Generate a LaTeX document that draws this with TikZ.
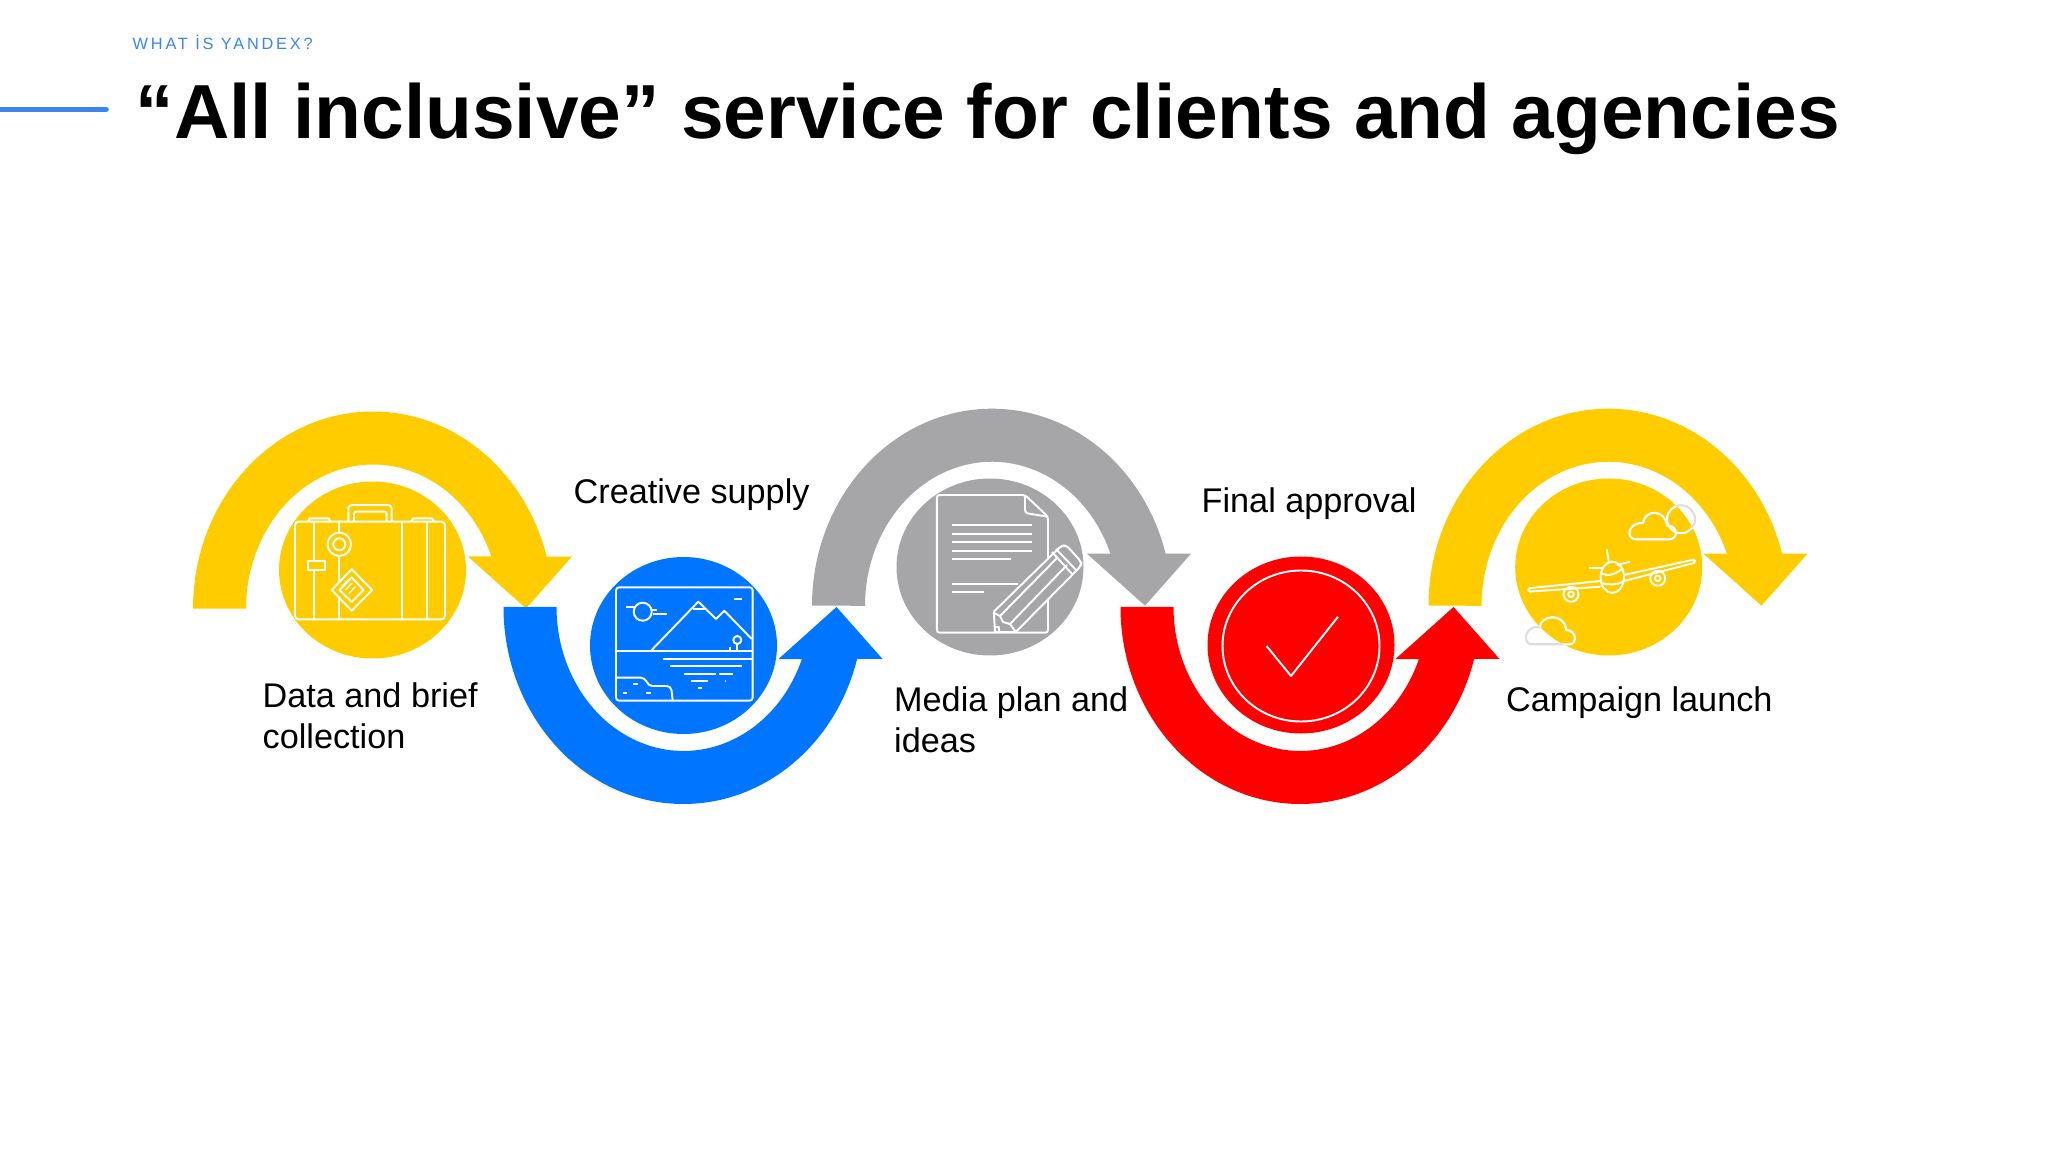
\documentclass[tikz,border=0pt]{standalone}
\usepackage{fontspec}
\usepackage{xcolor}
\setmainfont{Liberation Sans}
\newfontfamily\kickerfont[LetterSpace=17]{Liberation Sans}
\usetikzlibrary{positioning,calc}
\definecolor{sunyellow}{HTML}{FFCC00}
\definecolor{skyblue}{HTML}{0075FF}
\definecolor{stonegray}{HTML}{A6A5A8}
\definecolor{signalred}{HTML}{FF0000}
\definecolor{rulerblue}{HTML}{3A86EE}
\definecolor{haze}{HTML}{DDDDDD}
\tikzset{
    steplabel/.style={font=\fontsize{9.73}{11.66}\selectfont, anchor=base west, align=left, inner sep=0pt},
    icon/.style={draw=white, line width=0.55pt, line join=round},
}
\newcommand{\planeclouds}{
    (1636,539.3) -- (1669,539.3) .. controls (1679,539.3) and (1678,525) .. (1667,525.5)
        .. controls (1665,509) and (1645,509) .. (1643,523)
        .. controls (1628,522) and (1625,539.3) .. (1636,539.3)
    (1681,519.3) circle[radius=14]
    (1532,644.3) -- (1570,644.3) .. controls (1577,644.3) and (1577,630) .. (1566,630)
        .. controls (1565,612) and (1540,615) .. (1540,627)
        .. controls (1524,625) and (1522,644.3) .. (1532,644.3)
}
\begin{document}
\begin{tikzpicture}[x=0.01cm, y=-0.01cm]
    \useasboundingbox (0,0) rectangle (2048,1152);

    % Heading
    \node[anchor=base west, inner sep=0pt, text=rulerblue, font=\kickerfont\fontsize{4.65}{6}\selectfont] (kicker) at (132,49.5) {WHAT İS YANDEX?};
    \node[anchor=base west, inner sep=0pt, font=\fontsize{21.8}{26}\selectfont\bfseries] (headline) at (135,138.5) {“All inclusive” service for clients and agencies};
    \coordinate (ruleL) at (0,109.5);
    \coordinate (ruleR) at (106,109.5);
    \draw[rulerblue, line width=1.6pt, line cap=round] (ruleL) -- (ruleR);

    % Discs
    \foreach \cx/\cy/\col in {372.5/570/sunyellow, 683.5/645.5/skyblue, 990/567/stonegray, 1301/645/signalred, 1608.7/567/sunyellow} {
        \fill[fill=\col] (\cx,\cy) ellipse[x radius=93.5, y radius=88.5];
    }

    % Sweeping arrows
    \foreach \cx/\basey/\flip/\col in {373/608.5/-1/sunyellow, 683.5/607/1/skyblue, 992/605.7/-1/stonegray, 1300.5/607/1/signalred, 1608.5/605.7/-1/sunyellow} {
        \begin{scope}[shift={(\cx,\basey)}, yscale=\flip]
            \fill[fill=\col] (-180,0) arc[start angle=180, end angle=15.3, x radius=180, y radius=197]
                -- (199,52) -- (153,0) -- (95,52) -- (118.4,52)
                arc[start angle=21.2, end angle=180, x radius=127, y radius=144] -- cycle;
        \end{scope}
    }

    % Suitcase
    \draw[icon, rounded corners=1pt] (295,521.7) rectangle (445,619.3);
    \draw[icon, rounded corners=1pt] (348.3,521.7) -- (348.3,505) -- (391.7,505) -- (391.7,521.7);
    \draw[icon, rounded corners=0.6pt] (354,521.7) -- (354,511.7) -- (386.7,511.7) -- (386.7,521.7);
    \draw[icon] (308.3,521.7) -- (309.5,518.3) -- (329,518.3) -- (330,521.7);
    \draw[icon] (411,521.7) -- (413,518.3) -- (432,518.3) -- (434,521.7);
    \foreach \x in {314.3, 401.7, 427.3} {
        \draw[icon] (\x,521.7) -- (\x,619.3);
    }
    \draw[icon] (339.3,521.7) -- (339.3,619.3);
    \draw[icon, fill=sunyellow] (339.3,544.3) circle[radius=11.7];
    \draw[icon] (339.3,544.3) circle[radius=6];
    \draw[icon, fill=sunyellow] (308.3,561) rectangle (325,570);
    \draw[icon, fill=sunyellow] (331.7,590) -- (351.7,569.3) -- (372.3,590) -- (351.7,610.7) -- cycle;
    \draw[icon] (339.5,590) -- (351.7,577.5) -- (363.5,590) -- (351.7,602) -- cycle;
    \foreach \d in {-3.5, 0, 3.5} {
        \draw[icon, line width=0.4pt] (345.5+\d,590+\d) -- (352+\d,583+\d);
    }

    % Landscape
    \draw[icon, rounded corners=0.9pt] (616,587.3) rectangle (752.7,700.7);
    \draw[icon] (616,650.7) -- (752.7,650.7);
    \draw[icon] (651.7,650) -- (698.3,601.7) -- (716,619) -- (724.3,610.7) -- (751.7,639);
    \draw[icon] (692.7,609) -- (705,609);
    \draw[icon] (642.7,611.7) circle[radius=9];
    \draw[icon, rounded corners=1.2pt] (616.7,677.7) -- (645,677.7) -- (648.3,686) -- (671,686) -- (672.7,700.7);
    \draw[icon] (730,646.7) -- (730,650.7);
    \draw[icon] (737.3,644) -- (737.3,650.7);
    \draw[icon] (737.3,640) circle[radius=4];
    \foreach \xa/\xb/\yy in {626/635/607.3, 651.7/656.7/610, 653.3/666.7/614, 734.3/741.7/599,
            662.7/751.7/659, 670/741.7/666.3, 684/716/673.7, 719.3/733.3/673.7, 690.7/708.3/680.7,
            725/726/680.7, 697.7/701.7/687.7, 633.3/637.7/684, 622.7/627.3/693.3, 646/650.7/693.3} {
        \draw[icon] (\xa,\yy) -- (\xb,\yy);
    }

    % Document and pencil
    \draw[icon, rounded corners=0.8pt] (1025,495) -- (936.8,495) -- (936.8,632.7) -- (1048,632.7) -- (1048,516.7) -- cycle;
    \draw[icon, rounded corners=0.8pt] (1025,495) -- (1025,513) -- (1048,516.7);
    \foreach \xb/\yy in {1031.9/525.3, 1031.9/533.7, 1031.9/542, 1031.9/550.7, 1011.2/559, 1018/584.3, 983.7/592} {
        \draw[icon] (951.5,\yy) -- (\xb,\yy);
    }
    \draw[icon, fill=stonegray, rounded corners=1pt] (993.8,611.7) -- (1061,546) -- (1066,545) -- (1081.4,562) -- (1081,566) -- (1015.8,632);
    \draw[icon, fill=stonegray] (993.8,611.7) -- (995,632) -- (1015.8,632);
    \draw[icon] (994,613) -- (1000,616) -- (1003,622) -- (1010,624) -- (1015.8,632);
    \draw[icon] (995,627) -- (999,627) -- (999,632);
    \draw[icon] (1000,616) -- (1057,558);
    \draw[icon] (1010,624) -- (1067,565);
    \draw[icon] (1052,552) -- (1073,575);
    \draw[icon] (1056,549) -- (1077,571);

    % Final check
    \draw[icon] (1301,646) ellipse[x radius=78.5, y radius=75.5];
    \coordinate (checkA) at (1266.5,646);
    \coordinate (checkB) at (1291,676);
    \coordinate (checkC) at (1338,616.7);
    \draw[icon] (checkA) -- (checkB) -- (checkC);

    % Plane
    \draw[icon] (1606.7,549.3) -- (1609,563.3);
    \draw[icon] (1589.3,568.3) -- (1603.3,568.3);
    \draw[icon] (1616.7,565) -- (1630,561.7);
    \draw[icon] (1612.3,577.3) ellipse[x radius=11.7, y radius=15.7];
    \draw[icon] (1601,573) .. controls (1606,576) and (1614,576) .. (1623,568);
    \draw[icon] (1601,583) .. controls (1608,585) and (1616,585) .. (1623,582);
    \draw[icon, rounded corners=0.4pt] (1600.6,581) -- (1528.3,588.3) -- (1528.3,591.7) -- (1600.6,586.7);
    \draw[icon, rounded corners=0.4pt] (1624,575) -- (1695,559.3) -- (1695,562.7) -- (1624,581);
    \foreach \ex/\ey in {1571/594.3, 1657.7/578.3} {
        \draw[icon] (\ex,\ey) circle[radius=7.5];
        \draw[icon] (\ex,\ey) circle[radius=2.8];
    }
    \draw[haze, line width=0.6pt] \planeclouds;
    \begin{scope}
        \clip (1608.7,567) ellipse[x radius=93.5, y radius=88.5];
        \draw[icon] \planeclouds;
    \end{scope}

    % Step labels
    \node[steplabel] (dataLabel) at (262,707.5) {Data and brief};
    \node[steplabel] (dataLabelB) at (262,748.5) {collection};
    \node[steplabel] (supplyLabel) at (573,504) {Creative supply};
    \node[steplabel] (mediaLabel) at (893.5,711.5) {Media plan and};
    \node[steplabel] (mediaLabelB) at (893.5,752.5) {ideas};
    \node[steplabel] (approvalLabel) at (1201,512.5) {Final approval};
    \node[steplabel] (launchLabel) at (1505.5,711.5) {Campaign launch};
\end{tikzpicture}
\end{document}
